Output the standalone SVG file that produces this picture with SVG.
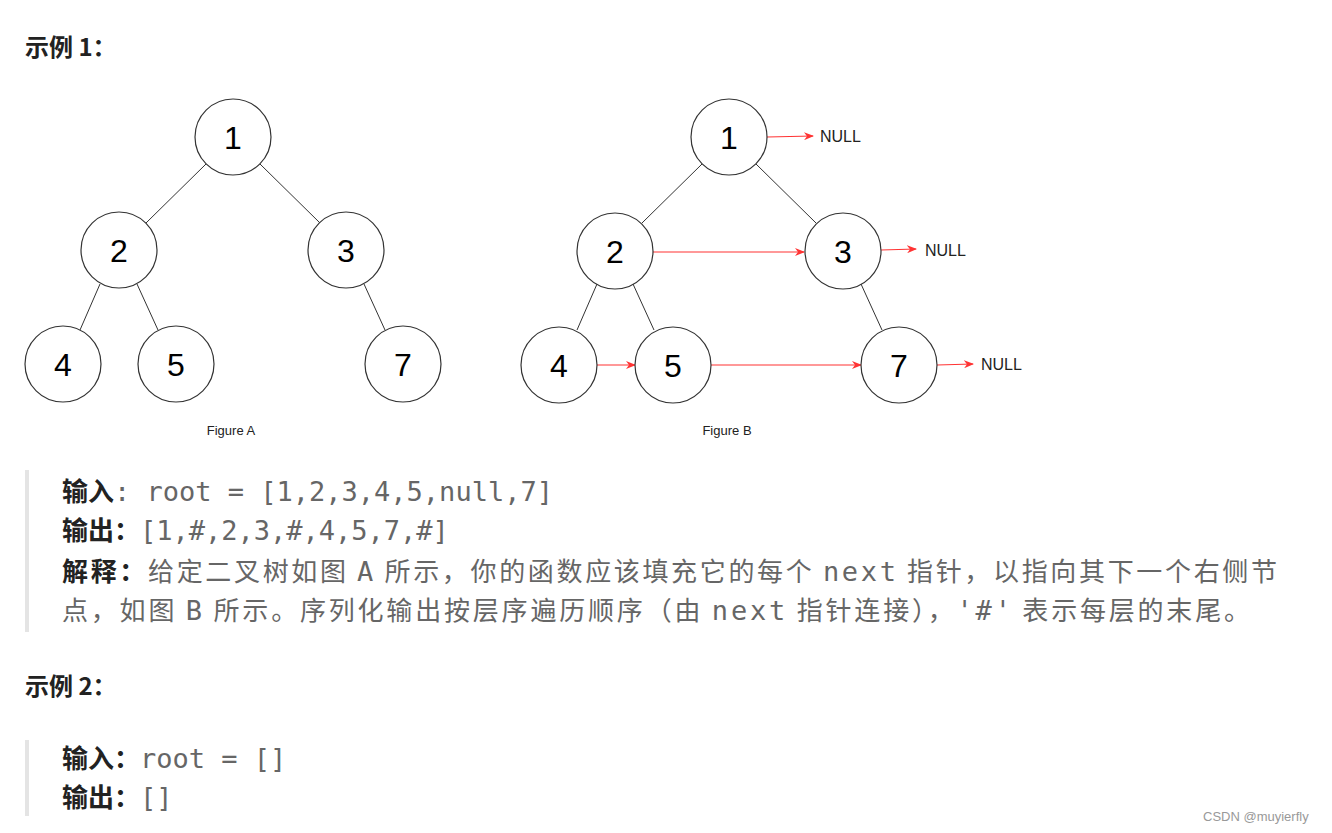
<svg xmlns="http://www.w3.org/2000/svg" width="1332" height="833" viewBox="0 0 1332 833">
<style>
.n circle{fill:#fff;stroke:#333;stroke-width:1.2}
.n text{font-family:"Liberation Sans",Arial,sans-serif;font-size:32px;fill:#000;text-anchor:middle}
.e{stroke:#333;stroke-width:1;fill:none}
.r{stroke:#ff3333;stroke-width:1.2;fill:none;marker-end:url(#a)}
.cap{font-family:"Liberation Sans",Arial,sans-serif;font-size:13px;fill:#222;text-anchor:middle}
.nl{font-family:"Liberation Sans",Arial,sans-serif;font-size:16px;fill:#222}
.h{font-family:"Noto Sans CJK SC","Liberation Sans",sans-serif;font-size:24px;font-weight:bold;fill:#222}
.t{font-family:"DejaVu Sans Mono","Noto Sans CJK SC",monospace;font-size:27px;fill:#666}
.b{font-family:"Noto Sans CJK SC",sans-serif;font-weight:bold;fill:#222;font-size:26px}
.c{font-family:"Noto Sans CJK SC",sans-serif;font-size:26px}
</style>
<defs><marker id="a" markerWidth="10" markerHeight="8" refX="9" refY="4" orient="auto" markerUnits="userSpaceOnUse"><path d="M0,0L10,4L0,8L3,4Z" fill="#ff3333"/></marker></defs>
<rect width="1332" height="833" fill="#fff"/>
<text class="h" x="25" y="56">示例 1：</text>
<g id="connectors">
<line class="e" x1="206" y1="164" x2="146" y2="223"/><line class="e" x1="260" y1="164" x2="320" y2="223"/>
<line class="e" x1="100" y1="284" x2="80" y2="330"/><line class="e" x1="137" y1="284" x2="158" y2="330"/>
<line class="e" x1="364" y1="284" x2="385" y2="330"/>
<line class="e" x1="702" y1="164" x2="642" y2="223"/><line class="e" x1="756" y1="164" x2="816" y2="223"/>
<line class="e" x1="597" y1="284" x2="577" y2="330"/><line class="e" x1="633" y1="284" x2="654" y2="330"/>
<line class="e" x1="861" y1="284" x2="882" y2="330"/>
<path class="r" d="M767,137L813,136"/>
<path class="r" d="M653,252L804,252"/>
<path class="r" d="M881,250L916,249"/>
<path class="r" d="M597,365L635,365"/>
<path class="r" d="M711,365L861,365"/>
<path class="r" d="M937,365L973,364"/>
</g>
<g id="A1" class="n"><circle cx="233" cy="137" r="38"/><text x="233" y="149">1</text></g>
<g id="A2" class="n"><circle cx="119" cy="250" r="38"/><text x="119" y="262">2</text></g>
<g id="A3" class="n"><circle cx="346" cy="250" r="38"/><text x="346" y="262">3</text></g>
<g id="A4" class="n"><circle cx="63" cy="364" r="38"/><text x="63" y="376">4</text></g>
<g id="A5" class="n"><circle cx="176" cy="364" r="38"/><text x="176" y="376">5</text></g>
<g id="A7" class="n"><circle cx="403" cy="364" r="38"/><text x="403" y="376">7</text></g>
<g id="B1" class="n"><circle cx="729" cy="137" r="38"/><text x="729" y="149">1</text></g>
<g id="B2" class="n"><circle cx="615" cy="251" r="38"/><text x="615" y="263">2</text></g>
<g id="B3" class="n"><circle cx="843" cy="251" r="38"/><text x="843" y="263">3</text></g>
<g id="B4" class="n"><circle cx="559" cy="365" r="38"/><text x="559" y="377">4</text></g>
<g id="B5" class="n"><circle cx="673" cy="365" r="38"/><text x="673" y="377">5</text></g>
<g id="B7" class="n"><circle cx="899" cy="365" r="38"/><text x="899" y="377">7</text></g>
<text class="nl" x="820" y="142">NULL</text>
<text class="nl" x="925" y="256">NULL</text>
<text class="nl" x="981" y="370">NULL</text>
<text class="cap" x="231" y="435">Figure A</text>
<text class="cap" x="727" y="435">Figure B</text>
<rect x="25" y="470" width="4" height="162" fill="#e4e4e4"/>
<text class="t" x="62" y="501"><tspan class="b">输入</tspan>: root = [1,2,3,4,5,null,7]</text>
<text class="t" x="62" y="540"><tspan class="b">输出：</tspan>[1,#,2,3,#,4,5,7,#]</text>
<text class="t" x="62" y="581" textLength="1215" lengthAdjust="spacing"><tspan class="b">解释：</tspan><tspan class="c">给定二叉树如图 </tspan>A<tspan class="c"> 所示，你的函数应该填充它的每个 </tspan>next<tspan class="c"> 指针，以指向其下一个右侧节</tspan></text>
<text class="t" x="62" y="620" textLength="1188" lengthAdjust="spacing"><tspan class="c">点，如图 </tspan>B<tspan class="c"> 所示。序列化输出按层序遍历顺序（由 </tspan>next<tspan class="c"> 指针连接），</tspan>'#'<tspan class="c"> 表示每层的末尾。</tspan></text>
<text class="h" x="25" y="695">示例 2：</text>
<rect x="25" y="740" width="4" height="76" fill="#e4e4e4"/>
<text class="t" x="62" y="768"><tspan class="b">输入：</tspan>root = []</text>
<text class="t" x="62" y="807"><tspan class="b">输出：</tspan>[]</text>
<text x="1203" y="821" style="font-family:'Liberation Sans',sans-serif;font-size:13px;fill:#999">CSDN @muyierfly</text>
</svg>
